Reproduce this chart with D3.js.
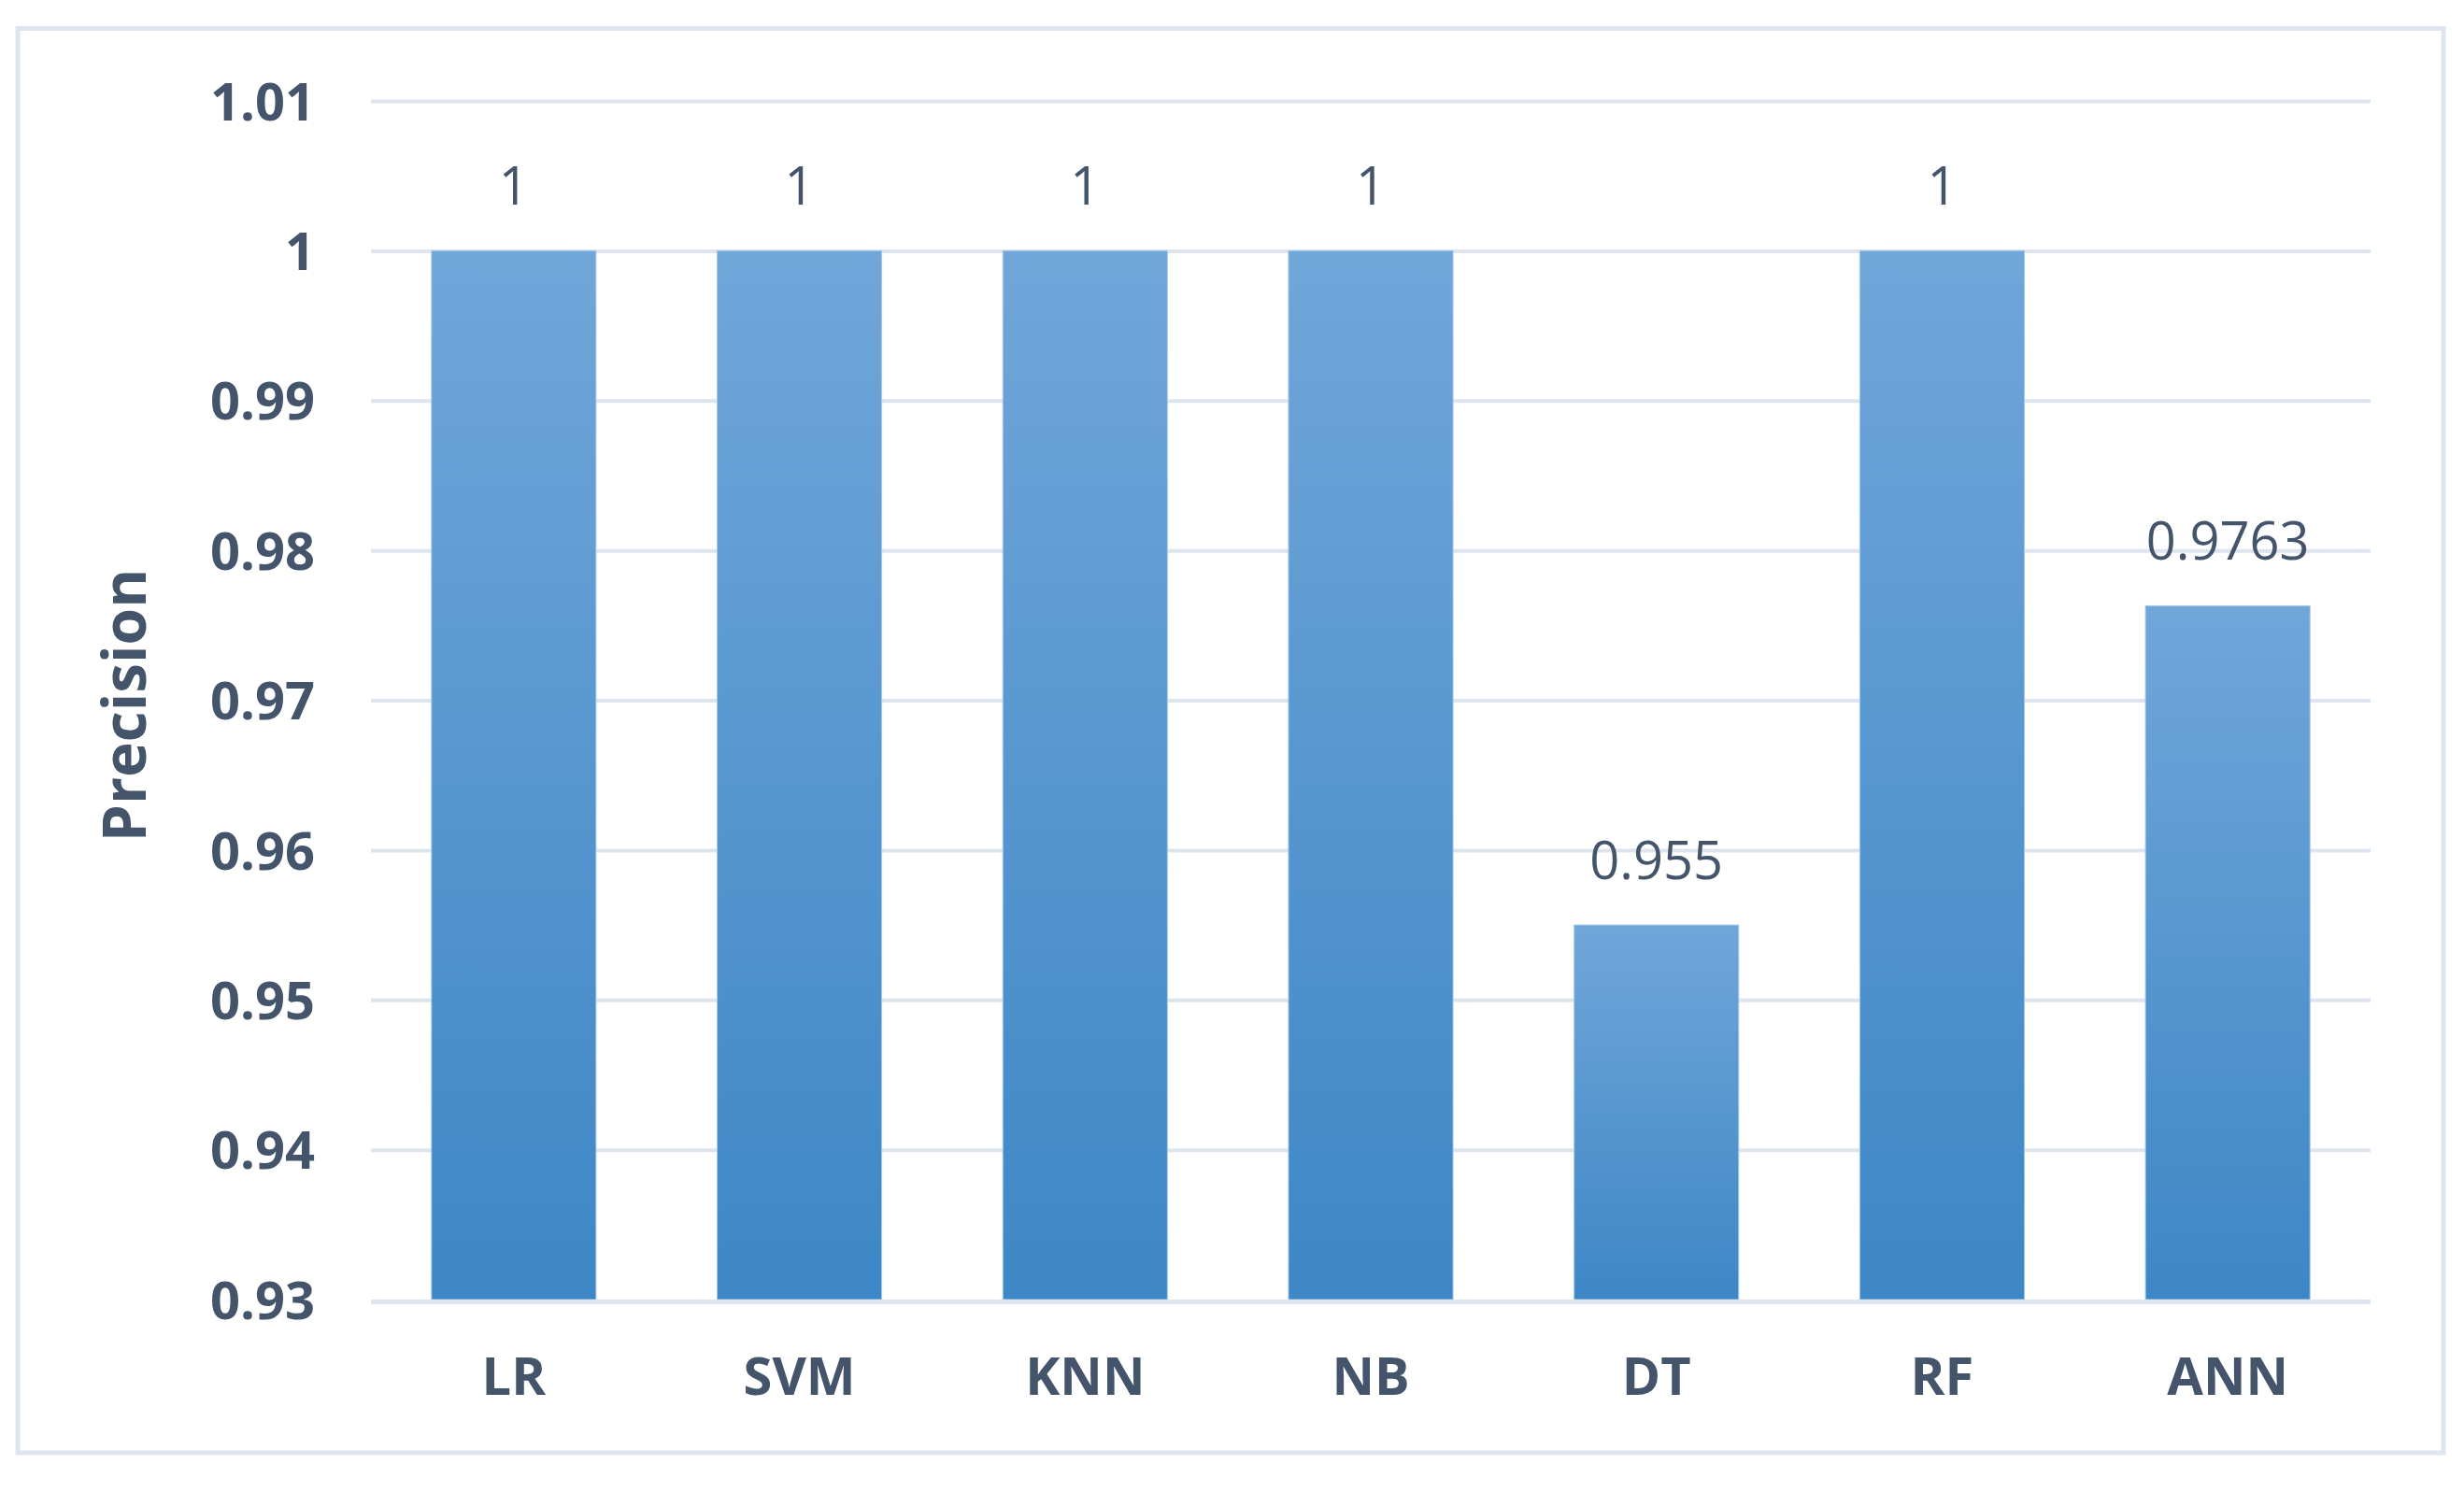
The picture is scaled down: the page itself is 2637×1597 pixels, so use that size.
<!DOCTYPE html>
<html>
<head>
<meta charset="utf-8">
<script src="https://cdn.jsdelivr.net/npm/d3@7"></script>
<style>
  html, body { margin: 0; padding: 0; background: #ffffff; }
  svg { display: block; }
</style>
</head>
<body>
<script>
// ---- data ----
const categories = ["LR", "SVM", "KNN", "NB", "DT", "RF", "ANN"];
const precisionValues = [1, 1, 1, 1, 0.955, 1, 0.9763];
const valueLabels = ["1", "1", "1", "1", "0.955", "1", "0.9763"];
const yTicks = [0.93, 0.94, 0.95, 0.96, 0.97, 0.98, 0.99, 1, 1.01];
const yTickLabels = ["0.93", "0.94", "0.95", "0.96", "0.97", "0.98", "0.99", "1", "1.01"];
const yAxisTitle = "Precision";

// ---- layout ----
const W = 2637, H = 1597;
const plot = { left: 397, right: 2537, top: 108, bottom: 1391 };
const textColor = "#44546a";
const gridColor = "#dde4ed";
const font = "'Open Sans', 'DejaVu Sans', sans-serif";

const svg = d3.select("body").append("svg")
  .attr("width", W).attr("height", H);

const defs = svg.append("defs");
const grad = defs.append("linearGradient")
  .attr("id", "barGrad").attr("x1", 0).attr("y1", 0).attr("x2", 0).attr("y2", 1);
grad.append("stop").attr("offset", "0%").attr("stop-color", "#71a6d9");
grad.append("stop").attr("offset", "100%").attr("stop-color", "#3d87c6");

// chart border
svg.append("rect")
  .attr("x", 19).attr("y", 30.5)
  .attr("width", 2596).attr("height", 1524.5)
  .attr("fill", "#ffffff")
  .attr("stroke", "#dfe5ee").attr("stroke-width", 5);

const x = d3.scaleBand()
  .domain(categories)
  .range([plot.left, plot.right])
  .paddingInner(0.424)
  .paddingOuter(0.212);

const y = d3.scaleLinear()
  .domain([0.93, 1.01])
  .range([plot.bottom, plot.top]);

// gridlines via axis
const gridAxis = d3.axisLeft(y)
  .tickValues(yTicks.slice(1))
  .tickSize(-(plot.right - plot.left))
  .tickFormat("");
const gGrid = svg.append("g")
  .attr("transform", `translate(${plot.left},0)`)
  .call(gridAxis);
gGrid.select(".domain").remove();
gGrid.selectAll(".tick line").attr("stroke", gridColor).attr("stroke-width", 4);

// y tick labels via axis
const yAxis = d3.axisLeft(y)
  .tickValues(yTicks)
  .tickSize(0)
  .tickPadding(0)
  .tickFormat((d, i) => yTickLabels[i]);
const gY = svg.append("g")
  .attr("transform", `translate(337,0)`)
  .call(yAxis);
gY.select(".domain").remove();
gY.selectAll(".tick text")
  .attr("font-family", font)
  .attr("font-weight", "bold")
  .attr("font-size", 56)
  .attr("fill", textColor)
  .attr("dy", "0.36em")
  .attr("text-anchor", "end");

// bars
svg.append("g").selectAll("rect")
  .data(categories)
  .join("rect")
  .attr("x", d => x(d))
  .attr("width", x.bandwidth())
  .attr("y", (d, i) => y(precisionValues[i]))
  .attr("height", (d, i) => y(0.93) - y(precisionValues[i]))
  .attr("fill", "url(#barGrad)")
  .attr("stroke", "#a6c8e8")
  .attr("stroke-width", 1);

// baseline axis line
const xAxis = d3.axisBottom(x).tickSize(0).tickPadding(0);
const gX = svg.append("g")
  .attr("transform", `translate(0,${plot.bottom})`)
  .call(xAxis);
gX.select(".domain")
  .attr("d", `M${plot.left},2.5H${plot.right}`)
  .attr("stroke", gridColor).attr("stroke-width", 5);
gX.selectAll(".tick text")
  .attr("font-family", font)
  .attr("font-weight", "bold")
  .attr("font-size", 56)
  .attr("fill", textColor)
  .attr("y", 102)
  .attr("dy", 0);

// data labels
svg.append("g").selectAll("text")
  .data(categories)
  .join("text")
  .attr("x", d => x(d) + x.bandwidth() / 2)
  .attr("y", (d, i) => y(precisionValues[i]) - 49)
  .attr("text-anchor", "middle")
  .attr("font-family", font)
  .attr("font-size", 56)
  .attr("fill", textColor)
  .text((d, i) => valueLabels[i]);

// y axis title
svg.append("text")
  .attr("transform", "translate(156,755) rotate(-90)")
  .attr("text-anchor", "middle")
  .attr("font-family", font)
  .attr("font-weight", "bold")
  .attr("font-size", 64)
  .attr("fill", textColor)
  .text(yAxisTitle);
</script>
</body>
</html>
